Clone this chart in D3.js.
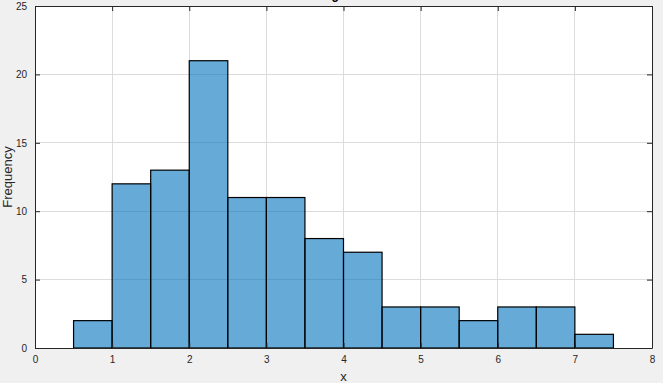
<!DOCTYPE html>
<html>
<head>
  <meta charset="utf-8">
  <script src="https://d3js.org/d3.v7.min.js"></script>
  <style>
    body { margin: 0; background: #f0f0f0; }
    svg { display: block; font-family: Helvetica, Arial, "Liberation Sans", sans-serif; }
  </style>
</head>
<body>
<div id="vis"></div>
<script>
  // Histogram data: bin edges and counts
  var binEdges = [0.5, 1, 1.5, 2, 2.5, 3, 3.5, 4, 4.5, 5, 5.5, 6, 6.5, 7, 7.5];
  var counts = [2, 12, 13, 21, 11, 11, 8, 7, 3, 3, 2, 3, 3, 1];
  var xTicks = [0, 1, 2, 3, 4, 5, 6, 7, 8];
  var yTicks = [0, 5, 10, 15, 20, 25];

  var W = 663, H = 383;
  var margin = {top: 6, right: 11, bottom: 35, left: 35};
  var width = W - margin.left - margin.right;
  var height = H - margin.top - margin.bottom;

  var x = d3.scaleLinear().domain([0, 8]).range([0, width]);
  var y = d3.scaleLinear().domain([0, 25]).range([height, 0]);

  var svg = d3.select('#vis').append('svg')
      .attr('width', W).attr('height', H);

  svg.append('rect').attr('width', W).attr('height', H).attr('fill', '#f0f0f0');

  var g = svg.append('g')
      .attr('transform', 'translate(' + margin.left + ',' + margin.top + ')');

  g.append('rect').attr('width', width).attr('height', height).attr('fill', '#fff');

  // grid
  g.selectAll('.vgrid').data(xTicks.slice(1, -1)).enter().append('line')
      .attr('x1', function(d) { return x(d); }).attr('x2', function(d) { return x(d); })
      .attr('y1', 0).attr('y2', height)
      .attr('stroke', '#dcdcdc').attr('stroke-width', 1).attr('shape-rendering', 'crispEdges');
  g.selectAll('.hgrid').data(yTicks.slice(1, -1)).enter().append('line')
      .attr('y1', function(d) { return y(d); }).attr('y2', function(d) { return y(d); })
      .attr('x1', 0).attr('x2', width)
      .attr('stroke', '#dcdcdc').attr('stroke-width', 1).attr('shape-rendering', 'crispEdges');

  // bars
  g.selectAll('.bar').data(counts).enter().append('rect')
      .attr('x', function(d, i) { return x(binEdges[i]); })
      .attr('width', function(d, i) { return x(binEdges[i + 1]) - x(binEdges[i]); })
      .attr('y', function(d) { return y(d); })
      .attr('height', function(d) { return y(0) - y(d); })
      .attr('fill', 'rgba(0,114,189,0.6)')
      .attr('stroke', '#000').attr('stroke-width', 1.2);

  // axes
  var xAxis = d3.axisBottom(x).tickValues(xTicks).tickSizeInner(-5).tickSizeOuter(0).tickPadding(8);
  var yAxis = d3.axisLeft(y).tickValues(yTicks).tickSizeInner(-5).tickSizeOuter(0).tickPadding(8);
  var xTop = d3.axisTop(x).tickValues(xTicks).tickSizeInner(-5).tickSizeOuter(0).tickFormat('');
  var yRight = d3.axisRight(y).tickValues(yTicks).tickSizeInner(-5).tickSizeOuter(0).tickFormat('');

  function style(sel) {
    sel.selectAll('path').attr('stroke', '#262626');
    sel.selectAll('line').attr('stroke', '#262626');
    sel.selectAll('text').attr('fill', '#262626').style('font-size', '10px');
  }

  g.append('g').attr('transform', 'translate(0,' + height + ')').call(xAxis).call(style);
  g.append('g').call(yAxis).call(style);
  g.append('g').call(xTop).call(style);
  g.append('g').attr('transform', 'translate(' + width + ',0)').call(yRight).call(style);

  // labels
  g.append('text').text('x')
      .attr('x', width / 2).attr('y', height + 33)
      .attr('text-anchor', 'middle').attr('fill', '#262626').style('font-size', '13px');

  g.append('text').text('Frequency')
      .attr('transform', 'rotate(-90)')
      .attr('x', -height / 2).attr('y', -23)
      .attr('text-anchor', 'middle').attr('fill', '#262626').style('font-size', '13px');

  // title, mostly cut off at the top
  g.append('text').text('Histogram of x')
      .attr('x', width / 2).attr('y', -7)
      .attr('text-anchor', 'middle').attr('fill', '#000')
      .style('font-size', '12px').style('font-weight', 'bold');
</script>
</body>
</html>
